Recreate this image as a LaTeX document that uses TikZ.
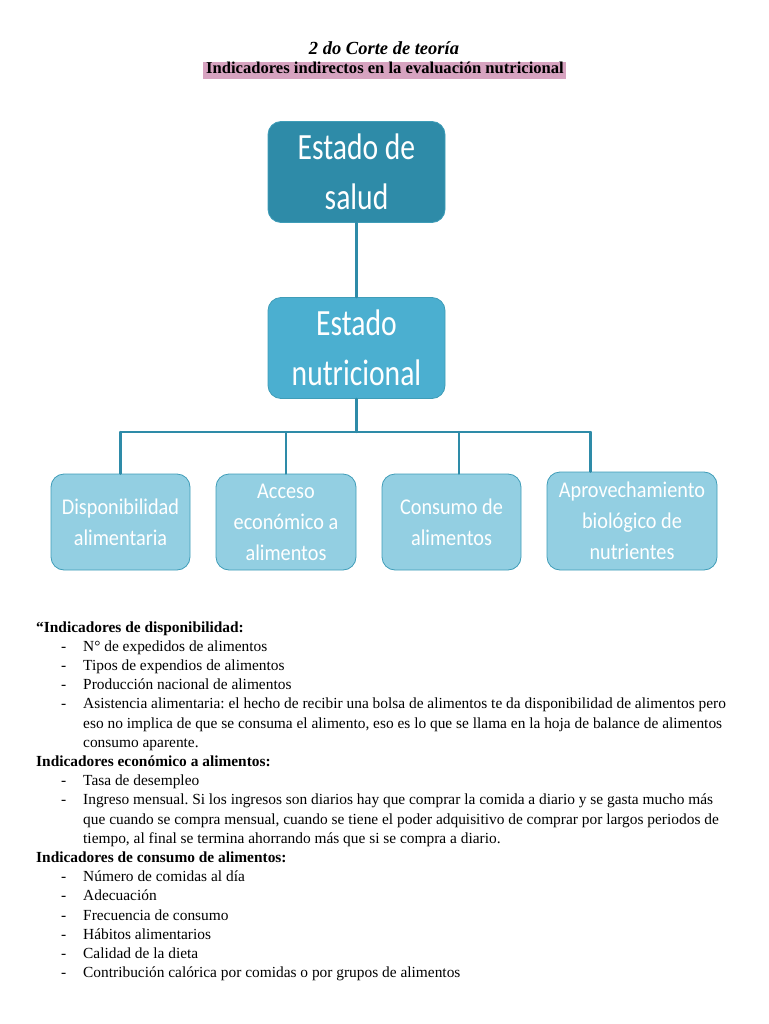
\documentclass[tikz,border=0pt]{standalone}
\usepackage{fontspec}
\setmainfont{Liberation Serif}
\newfontfamily\cajafont[FakeStretch=0.8]{Carlito}
\newfontfamily\cajafontb[FakeStretch=0.9]{Carlito}
\usepackage{xcolor}
\usetikzlibrary{calc}
\frenchspacing

\definecolor{salud}{HTML}{2E8BA8}
\definecolor{nutri}{HTML}{4BAFD0}
\definecolor{claro}{HTML}{93CFE2}
\definecolor{borde}{HTML}{3F9DB8}
\definecolor{resalte}{HTML}{D7A3C0}

\tikzset{
  caja/.style={rounded corners=13pt, draw=borde, line width=0.8pt, text=white,
    align=center, inner sep=0pt},
  cajagrande/.style={caja, minimum width=177pt, minimum height=101pt,
    font=\cajafont\fontsize{37}{50}\selectfont},
  cajachica/.style={caja, minimum width=139pt, minimum height=96pt,
    font=\cajafontb\fontsize{22.5}{31}\selectfont},
  conector/.style={draw=salud, line width=2.4pt},
  linea/.style={anchor=base west, inner sep=0pt, font=\fontsize{15.4}{18}\selectfont},
  guion/.style={anchor=base west, inner sep=0pt, font=\fontsize{15.4}{18}\selectfont},
}

\begin{document}
\begin{tikzpicture}[x=1pt, y=-1pt, line cap=round, line join=round]

  \path[use as bounding box] (0,0) rectangle (768,1024);

  %====================
  % 1) Titulo y subtitulo resaltado
  %====================
  \node[anchor=base, inner sep=0pt, font=\fontsize{18.5}{22}\selectfont\bfseries\itshape]
    (titulo) at (384,55) {2 do Corte de teoría};

  \fill[resalte] (203,62) rectangle (566,79);
  \node[anchor=base, inner sep=0pt, font=\fontsize{16.6}{19}\selectfont\bfseries]
    (subtitulo) at (385,74) {Indicadores indirectos en la evaluación nutricional};

  %====================
  % 2) Cajas del esquema
  %====================
  \node[cajagrande, fill=salud] (salud) at (356.5,172) {Estado de\\salud};
  \node[cajagrande, fill=nutri] (nutri) at (356.5,348) {Estado\\nutricional};

  \node[cajachica, fill=claro] (disp)    at (120.5,522) {Disponibilidad\\alimentaria};
  \node[cajachica, fill=claro, minimum width=140pt] (acceso) at (286,522)
    {Acceso\\económico a\\alimentos};
  \node[cajachica, fill=claro] (consumo) at (451.5,522) {Consumo de\\alimentos};
  \node[cajachica, fill=claro, minimum width=170pt, minimum height=98pt] (aprov)
    at (632,521) {Aprovechamiento\\biológico de\\nutrientes};

  %====================
  % 3) Conectores
  %====================
  \coordinate (bus)  at (356.5,432);
  \coordinate (busA) at (disp.north |- bus);
  \coordinate (busB) at (acceso.north |- bus);
  \coordinate (busC) at (459,432);
  \coordinate (busD) at (590.5,432);

  \draw[conector] (salud) -- (nutri);
  \draw[conector] (nutri) -- (bus);
  \draw[conector] (busA) -- (busD);
  \draw[conector] (busA) -- (disp.north);
  \draw[conector] (busB) -- (acceso.north);
  \draw[conector] (busC) -- (busC |- consumo.north);
  \draw[conector] (busD) -- (busD |- aprov.north);

  %====================
  % 4) Texto: indicadores de disponibilidad
  %====================
  \node[linea, font=\fontsize{15.4}{18}\selectfont\bfseries] (h1) at (36,632)
    {“Indicadores de disponibilidad:};
  \foreach \n in {1,...,4} {
    \node[guion] (g1\n) at (61,{632+19.2*\n}) {-};
  }
  \node[linea] (a1) at (83,651.2) {N° de expedidos de alimentos};
  \node[linea] (a2) at (83,670.4) {Tipos de expendios de alimentos};
  \node[linea] (a3) at (83,689.6) {Producción nacional de alimentos};
  \node[linea] (a4) at (83,708.8) {Asistencia alimentaria: el hecho de recibir una bolsa de alimentos te da disponibilidad de alimentos pero};
  \node[linea] (a5) at (83,728.0) {eso no implica de que se consuma el alimento, eso es lo que se llama en la hoja de balance de alimentos};
  \node[linea] (a6) at (83,747.2) {consumo aparente.};

  %====================
  % 5) Texto: indicadores economicos
  %====================
  \node[linea, font=\fontsize{15.4}{18}\selectfont\bfseries] (h2) at (36,766.4)
    {Indicadores económico a alimentos:};
  \node[guion] (g21) at (61,785.6) {-};
  \node[guion] (g22) at (61,804.8) {-};
  \node[linea] (b1) at (83,785.6) {Tasa de desempleo};
  \node[linea] (b2) at (83,804.8) {Ingreso mensual. Si los ingresos son diarios hay que comprar la comida a diario y se gasta mucho más};
  \node[linea] (b3) at (83,824.0) {que cuando se compra mensual, cuando se tiene el poder adquisitivo de comprar por largos periodos de};
  \node[linea] (b4) at (83,843.2) {tiempo, al final se termina ahorrando más que si se compra a diario.};

  %====================
  % 6) Texto: indicadores de consumo
  %====================
  \node[linea, font=\fontsize{15.4}{18}\selectfont\bfseries] (h3) at (36,862.4)
    {Indicadores de consumo de alimentos:};
  \foreach \n in {1,...,6} {
    \node[guion] (g3\n) at (61,{862.4+19.2*\n}) {-};
  }
  \node[linea] (c1) at (83,881.6) {Número de comidas al día};
  \node[linea] (c2) at (83,900.8) {Adecuación};
  \node[linea] (c3) at (83,920.0) {Frecuencia de consumo};
  \node[linea] (c4) at (83,939.2) {Hábitos alimentarios};
  \node[linea] (c5) at (83,958.4) {Calidad de la dieta};
  \node[linea] (c6) at (83,977.6) {Contribución calórica por comidas o por grupos de alimentos};

\end{tikzpicture}
\end{document}
